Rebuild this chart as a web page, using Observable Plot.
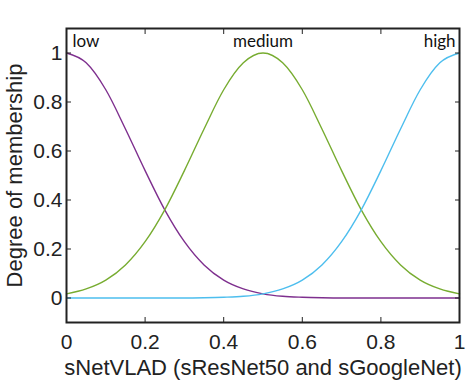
<!DOCTYPE html>
<html>
<head>
<meta charset="utf-8">
<script src="https://cdn.jsdelivr.net/npm/d3@7"></script>
<script src="https://cdn.jsdelivr.net/npm/@observablehq/plot@0.6"></script>
<style>
  html, body { margin: 0; padding: 0; background: #fff; }
  g[aria-label$="tick label"], g[aria-label$="tick label"] text { font-size: 21px !important; }
  g[aria-label="x-axis label"], g[aria-label="y-axis label"] { font-size: 22px; }
</style>
</head>
<body>
<div id="chart"></div>
<script>
// Values (x steps of 0.05)
const xs = [0, 0.05, 0.1, 0.15, 0.2, 0.25, 0.3, 0.35, 0.4, 0.45, 0.5,
            0.55, 0.6, 0.65, 0.7, 0.75, 0.8, 0.85, 0.9, 0.95, 1];
const lowVals = [1, 0.96, 0.85, 0.69, 0.52, 0.36, 0.23, 0.135, 0.073, 0.037, 0.017,
                 0.007, 0.003, 0.001, 0, 0, 0, 0, 0, 0, 0];
const mediumVals = [0.017, 0.037, 0.073, 0.135, 0.23, 0.36, 0.52, 0.69, 0.85, 0.96, 1,
                    0.96, 0.85, 0.69, 0.52, 0.36, 0.23, 0.135, 0.073, 0.037, 0.017];
const highVals = [0, 0, 0, 0, 0, 0, 0, 0.001, 0.003, 0.007, 0.017,
                  0.037, 0.073, 0.135, 0.23, 0.36, 0.52, 0.69, 0.85, 0.96, 1];
const seriesNames = ["low", "medium", "high"];
const seriesColors = ["#7E2F8E", "#77AC30", "#4DBEEE"];
const labelX = [0.015, 0.5, 0.99];
const xTicks = [0, 0.2, 0.4, 0.6, 0.8, 1];
const yTicks = [0, 0.2, 0.4, 0.6, 0.8, 1];

const seriesVals = [lowVals, mediumVals, highVals];
const rows = [];
seriesNames.forEach((name, i) => {
  xs.forEach((x, j) => rows.push({series: name, x, y: seriesVals[i][j]}));
});
const labels = seriesNames.map((name, i) => ({name, x: labelX[i], y: 1.1}));
const anchors = ["start", "middle", "end"];

const chart = Plot.plot({
  width: 474,
  height: 380,
  marginLeft: 66,
  marginRight: 15,
  marginTop: 28,
  marginBottom: 58,
  style: {fontFamily: "'Liberation Sans', Arial, sans-serif", fontSize: "21px", color: "#222", background: "#fff"},
  x: {domain: [0, 1]},
  y: {domain: [-0.1, 1.1]},
  color: {domain: seriesNames, range: seriesColors},
  marks: [
    Plot.line(rows, {x: "x", y: "y", z: "series", stroke: "series", strokeWidth: 1.4, curve: "monotone-x"}),
    Plot.axisX(xTicks, {anchor: "bottom", tickSize: -5, tickPadding: 17, tickFormat: d => String(d),
      label: "sNetVLAD (sResNet50 and sGoogleNet)", labelAnchor: "center", labelOffset: 52, labelArrow: "none"}),
    Plot.axisX(xTicks, {anchor: "top", tickSize: -5, tickFormat: () => "", label: null}),
    Plot.axisY(yTicks, {anchor: "left", tickSize: -5, tickPadding: 9, tickFormat: d => String(d),
      label: "Degree of membership", labelAnchor: "center", labelOffset: 60, labelArrow: "none"}),
    Plot.axisY(yTicks, {anchor: "right", tickSize: -5, tickFormat: () => "", label: null}),
    Plot.frame({stroke: "#222", strokeWidth: 2}),
    ...labels.map((d, i) => Plot.text([d], {x: "x", y: "y", text: "name", dy: 13,
      textAnchor: anchors[i], fontFamily: "Lato, sans-serif", fontSize: 17, fill: "#111"}))
  ]
});
document.getElementById("chart").append(chart);
</script>
</body>
</html>
